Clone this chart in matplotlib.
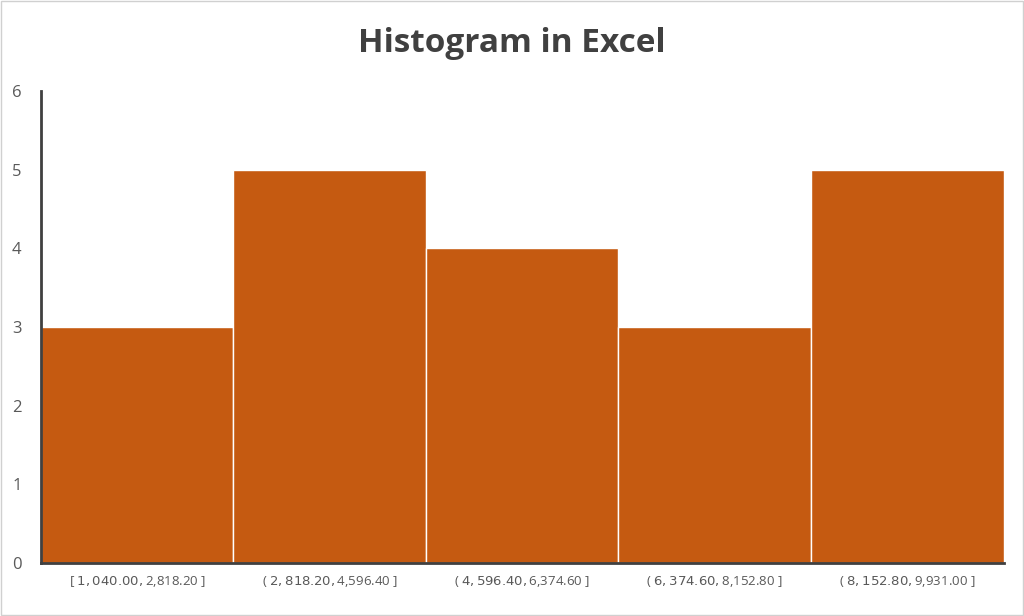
import matplotlib.pyplot as plt
import numpy as np

bins = ["[ $1,040.00 ,  $2,818.20 ]", "( $2,818.20 ,  $4,596.40 ]", "( $4,596.40 ,  $6,374.60 ]",
        "( $6,374.60 ,  $8,152.80 ]", "( $8,152.80 ,  $9,931.00 ]"]
counts = [3, 5, 4, 3, 5]

plt.rcParams['font.family'] = ['Open Sans', 'DejaVu Sans']
fig = plt.figure(figsize=(10.24, 6.16), dpi=100)
fig.patches.append(plt.Rectangle((0.001, 0.001), 0.998, 0.998, transform=fig.transFigure,
                                 fill=False, edgecolor='#d0d0d0', linewidth=1))
ax = fig.add_axes([0.040, 0.086, 0.940, 0.766])
x = np.arange(len(counts))
ax.bar(x, counts, width=1.0, color='#C55A11', edgecolor='white', linewidth=1)
ax.set_xlim(-0.5, len(counts) - 0.5)
ax.set_ylim(0, 6)
ax.set_xticks(x)
ax.set_xticklabels(bins, fontsize=9.5, color='#595959')
ax.set_yticks(range(7))
ax.tick_params(axis='y', length=0, labelsize=12, colors='#595959', pad=14)
ax.tick_params(axis='x', length=0, pad=8)
for s in ['top', 'right']:
    ax.spines[s].set_visible(False)
ax.spines['left'].set_color('#404040')
ax.spines['left'].set_linewidth(2)
ax.spines['bottom'].set_color('#404040')
ax.spines['bottom'].set_linewidth(2)
fig.text(0.5, 0.93, "Histogram in Excel", ha='center', va='center', fontsize=24,
         fontweight='bold', color='#404040')
fig.savefig("out.png")
